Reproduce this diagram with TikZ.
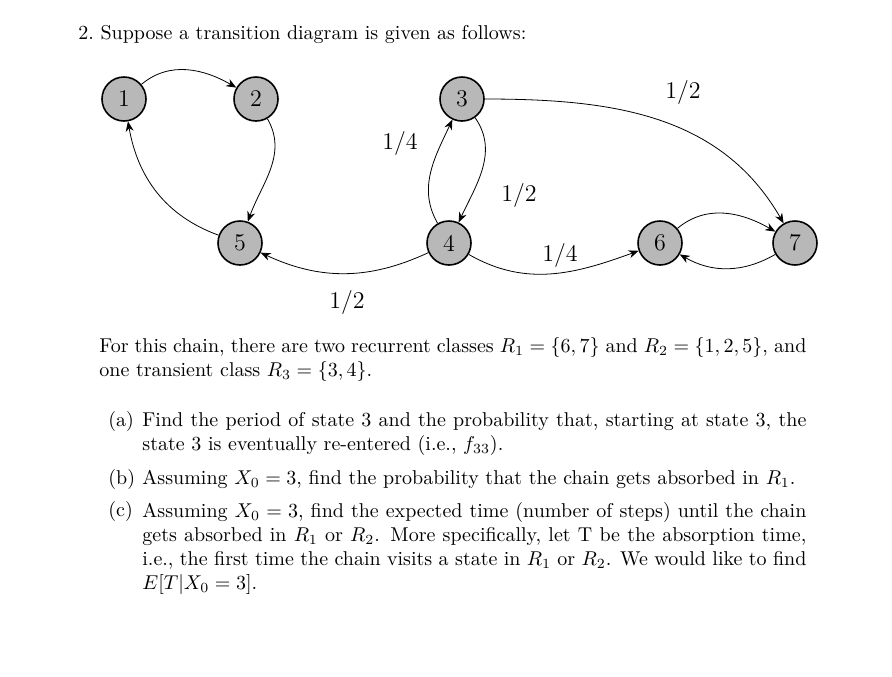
\documentclass[tikz,border=0pt]{standalone}
\usetikzlibrary{arrows.meta}
\begin{document}
\begin{tikzpicture}[x=0.5pt,y=-0.5pt,
  st/.style={circle,draw,thick,fill=black!28,minimum size=22pt,inner sep=0pt,font=\large},
  ar/.style={-{Stealth[length=5pt,width=4pt]},thin},
  lab/.style={font=\large},
  txt/.style={anchor=north west,inner sep=0pt,align=justify}]
\useasboundingbox (0,0) rectangle (892,676);
\node[anchor=base west,inner sep=0pt] (h) at (78,39) {2.\ Suppose a transition diagram is given as follows:};
\node[st] (1) at (124,99) {1};
\node[st] (2) at (256,99) {2};
\node[st] (3) at (462,99) {3};
\node[st] (5) at (240,243) {5};
\node[st] (4) at (449,243) {4};
\node[st] (6) at (660,243) {6};
\node[st] (7) at (795,243) {7};
\draw[ar] (1) to[out=40,in=150] (2);
\draw[ar] (2) to[out=-60,in=70] (5);
\draw[ar] (5) to[out=160,in=-80] (1);
\draw[ar] (4) to[out=120,in=-115] (3);
\draw[ar] (3) to[out=-55,in=65] (4);
\draw[ar] (4) to[out=-155,in=-25] (5);
\draw[ar] (4) to[out=-30,in=-160] (6);
\draw[ar] (3) to[out=0,in=120] (7);
\draw[ar] (6) to[out=40,in=150] (7);
\draw[ar] (7) to[out=-150,in=-30] (6);
\node[lab] (l1) at (683,92) {1/2};
\node[lab] (l2) at (400,143) {1/4};
\node[lab] (l3) at (519,195) {1/2};
\node[lab] (l4) at (560,255) {1/4};
\node[lab] (l5) at (347,302) {1/2};
\node[txt,text width=353.5pt] (p) at (99,337) {For this chain, there are two recurrent classes $R_1=\{6,7\}$ and $R_2=\{1,2,5\}$, and\linebreak one transient class $R_3=\{3,4\}$.};
\node[anchor=base west,inner sep=0pt] (la) at (108,426) {(a)};
\node[txt,text width=332pt] (a) at (142,412) {Find the period of state 3 and the probability that, starting at state 3, the\linebreak state 3 is eventually re-entered (i.e., $f_{33}$).};
\node[anchor=base west,inner sep=0pt] (lb) at (108,484) {(b)};
\node[txt,text width=332pt] (b) at (142,470) {Assuming $X_0=3$, find the probability that the chain gets absorbed in $R_1$.};
\node[anchor=base west,inner sep=0pt] (lc) at (108,516) {(c)};
\node[txt,text width=332pt] (c) at (142,502) {Assuming $X_0=3$, find the expected time (number of steps) until the chain\linebreak gets absorbed in $R_1$ or $R_2$. More specifically, let T be the absorption time,\linebreak i.e., the first time the chain visits a state in $R_1$ or $R_2$. We would like to find\linebreak $E[T|X_0=3]$.};
\end{tikzpicture}
\end{document}
